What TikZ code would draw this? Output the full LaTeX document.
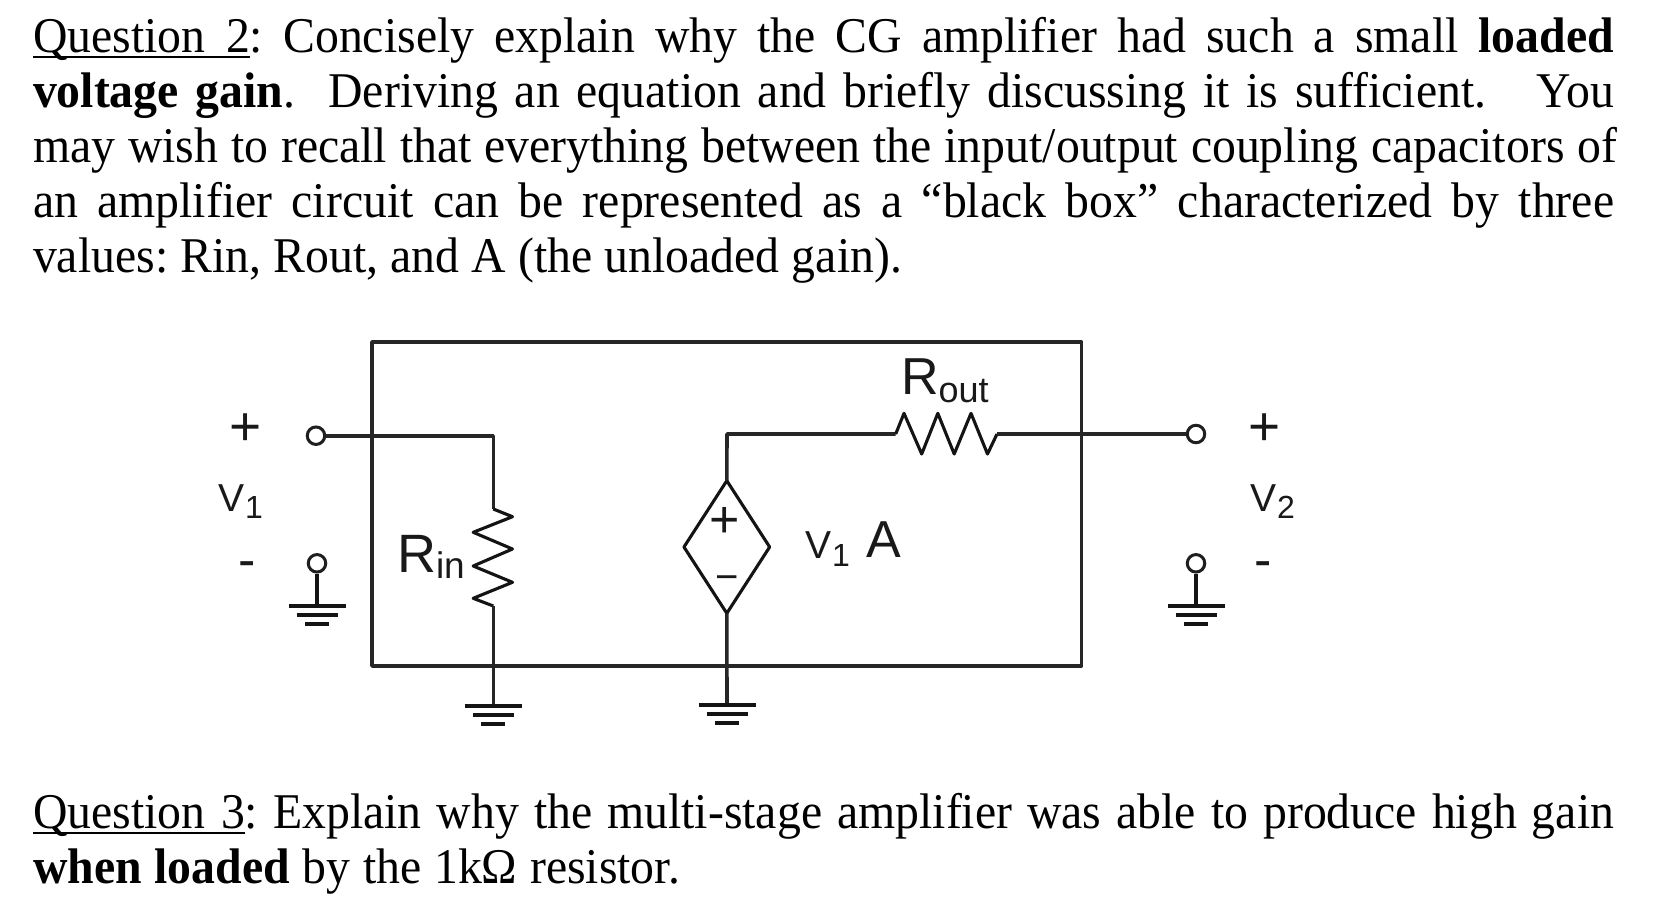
\documentclass[tikz,border=0pt]{standalone}
\usepackage{fontspec}
\setmainfont[FakeStretch=0.955]{Liberation Serif}
\newfontfamily\arl{Liberation Sans}
\usetikzlibrary{shapes.geometric}
\frenchspacing
\newcommand\tsz{\fontsize{50}{55}\selectfont}
\newcommand\myul[2]{\setbox0\hbox to #1{#2}\rlap{\rule[-6pt]{#1}{2.4pt}}\box0}
\newcommand\lyne[2]{\makebox[#1][s]{#2}}
\newcommand\subsz[3]{\raisebox{-#1pt}{\fontsize{#2}{#2}\selectfont #3}}
\newcommand\gnd[1]{%
  \draw[bar] ([xshift=-28.5pt]#1) -- ([xshift=28.5pt]#1);
  \draw[bar] ([xshift=-20.5pt,yshift=-9pt]#1) -- ([xshift=20.5pt,yshift=-9pt]#1);
  \draw[bar,line width=3.8pt] ([xshift=-12pt,yshift=-18pt]#1) -- ([xshift=12pt,yshift=-18pt]#1);}
\tikzset{
  x=1pt,y=-1pt,
  para/.style={anchor=base west,inner sep=0pt,outer sep=0pt,font=\tsz},
  sans/.style={anchor=base west,inner sep=0pt,outer sep=0pt,text=black!90},
  wire/.style={draw=black!85,line width=3.6pt,line join=round},
  thin wire/.style={draw=black!92,line width=3.1pt,line join=round},
  bar/.style={draw=black!92,line width=3.2pt},
  term/.style={circle,draw=black!88,line width=3pt,minimum size=17.5pt,inner sep=0pt,fill=white},
}
\begin{document}
\begin{tikzpicture}
\useasboundingbox (0,0) rectangle (1680,916);
% text
\node[para] (l1) at (33,52) {\lyne{1581pt}{\myul{217pt}{Question\hfil 2}: Concisely explain why the CG amplifier had such a small \textbf{loaded}}};
\node[para] (l2) at (33,107) {\lyne{1581pt}{\textbf{voltage gain}. \ Deriving an equation and briefly discussing it is sufficient. \ \ You}};
\node[para] (l3) at (33,162) {\lyne{1584pt}{may wish to recall that everything between the input/output coupling capacitors of}};
\node[para] (l4) at (33,217) {\lyne{1581pt}{an amplifier circuit can be represented as a “black box” characterized by three}};
\node[para] (l5) at (33,272) {\lyne{869pt}{values: Rin, Rout, and A (the unloaded gain).}};
\node[para] (l6) at (33,828) {\lyne{1581pt}{\myul{212pt}{Question\hfil 3}: Explain why the multi-stage amplifier was able to produce high gain}};
\node[para] (l7) at (33,883) {\lyne{647pt}{\textbf{when loaded} by the 1kΩ resistor.}};
% box
\node[wire,rectangle,outer sep=0pt,minimum width=709.5pt,minimum height=324pt,inner sep=0pt,anchor=north west] (box) at (372,342) {};
% coordinates
\node[term] (t1) at (316,435.7) {};
\node[term] (t2) at (317,563.3) {};
\node[term] (t3) at (1196,434) {};
\node[term] (t4) at (1196,563.3) {};
\coordinate (g2) at (317,606);
\coordinate (g4) at (1196,606);
\coordinate (rin1) at (493.3,509);
\coordinate (rin2) at (493.3,606);
\coordinate (g0) at (493.3,706);
\coordinate (g1) at (727,705);
\coordinate (cor1) at (493.3,435.7);
\coordinate (cor2) at (727,434);
\coordinate (ro1) at (895.7,434);
\coordinate (ro2) at (997,434);
\node[diamond,draw=black!92,line width=3.1pt,line join=round,outer sep=0pt,minimum width=85.7pt,minimum height=132.6pt,inner sep=0pt] (dep) at (726.8,547) {};
% wires
\draw[wire] (t1) -- (cor1) -- (rin1);
\draw[thin wire] (rin1) -- (512.5,516.7) -- (473.2,532.3) -- (512.5,549) -- (473.2,566) -- (512.5,582.3) -- (473.2,598.3) -- (rin2);
\draw[wire] (rin2) -- (g0);
\draw[wire] (dep.north) -- (cor2) -- (ro1);
\draw[thin wire] (ro1) -- (904,413.3) -- (921.7,454) -- (937.8,413.3) -- (954.2,454) -- (971,413.3) -- (987.5,454) -- (ro2);
\draw[wire] (ro2) -- (t3);
\draw[wire] (dep.south) -- (g1);
\draw[thin wire] (t2) -- (g2);
\draw[thin wire] (t4) -- (g4);
\gnd{g0}
\gnd{g1}
\gnd{g2}
\gnd{g4}
% labels
\node[sans,font=\arl\fontsize{54}{54}\selectfont] (rinl) at (397,572.7) {R\subsz{5.6}{37}{in}};
\node[sans,font=\arl\fontsize{52}{52}\selectfont] (routl) at (901,394) {R\subsz{8}{36}{out}};
\node[sans,font=\arl\fontsize{39}{39}\selectfont] (v1) at (218,511.7) {V\kern1pt\subsz{6.6}{32}{1}};
\node[sans,font=\arl\fontsize{39}{39}\selectfont] (v2) at (1250,511.7) {V\kern1pt\subsz{6.6}{32}{2}};
\node[sans,font=\arl\fontsize{39}{39}\selectfont] (gainv) at (805,558) {V\kern1pt\subsz{8}{32}{1}};
\node[sans,font=\arl\fontsize{52}{52}\selectfont] (gaina) at (866,557.3) {A};
\node[sans,anchor=center,font=\arl\fontsize{55}{55}\selectfont] (p1) at (246,430) {+};
\node[sans,anchor=center,font=\arl\fontsize{55}{55}\selectfont] (p2) at (1265,430) {+};
\node[sans,font=\arl\fontsize{52}{52}\selectfont] (m1) at (238.5,577.5) {-};
\node[sans,font=\arl\fontsize{52}{52}\selectfont] (m2) at (1254.5,577.5) {-};
\node[sans,anchor=center,font=\arl\fontsize{52}{52}\selectfont] (dp) at (725,522) {+};
\node[sans,font=\arl\fontsize{40}{40}\selectfont] (dm) at (715,590) {−};
\end{tikzpicture}
\end{document}
